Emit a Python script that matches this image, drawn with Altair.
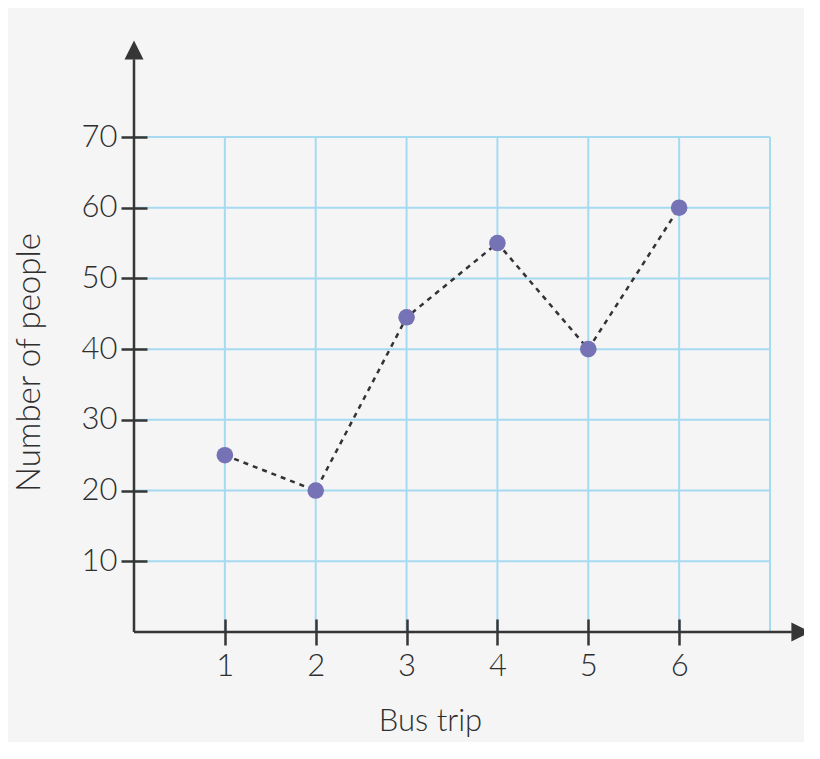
import altair as alt
import pandas as pd

# ---- data ----
trips = [1, 2, 3, 4, 5, 6]
people = [25, 20, 44.5, 55, 40, 60]
x_tick_values = [1, 2, 3, 4, 5, 6]
y_tick_values = [10, 20, 30, 40, 50, 60, 70]
grid_x = [1, 2, 3, 4, 5, 6, 7]
grid_y = [10, 20, 30, 40, 50, 60, 70]
x_max, y_max = 7, 70
x_axis_end, y_axis_end = 7.24, 81       # axis lines run past the grid
x_arrow_at, y_arrow_at = 7.34, 82.3     # arrowhead centres

FONT = "Lato"
TEXT = "#2e2e2e"
AXIS = "#363636"
GRID = "#a6daf0"
POINT = "#7672b6"

xs = alt.Scale(domain=[0, x_max], nice=False, zero=True)
ys = alt.Scale(domain=[0, y_max], nice=False, zero=True)

x_axis = alt.Axis(values=x_tick_values, grid=False, domain=False, title="Bus trip",
                  offset=-13, tickSize=26, tickWidth=2.5, tickColor=AXIS,
                  labelFont=FONT, labelFontSize=31, labelFontWeight=300, labelColor=TEXT,
                  labelPadding=6,
                  titleFont=FONT, titleFontSize=31, titleFontWeight=300, titleColor=TEXT,
                  titleX=296, titleY=111, titleBaseline="alphabetic", zindex=1)
y_axis = alt.Axis(values=y_tick_values, grid=False, domain=False, title="Number of people",
                  offset=-13, tickSize=26, tickWidth=2.5, tickColor=AXIS,
                  labelFont=FONT, labelFontSize=31, labelFontWeight=300, labelColor=TEXT,
                  labelPadding=4,
                  titleFont=FONT, titleFontSize=33, titleFontWeight=300, titleColor=TEXT,
                  titleX=-118, titleY=225, titleBaseline="middle", titleAngle=270, zindex=1)

X = alt.X("x:Q", scale=xs, axis=x_axis)
Y = alt.Y("y:Q", scale=ys, axis=y_axis)

vgrid = pd.DataFrame({"x": grid_x, "y": [0] * len(grid_x), "y2": [y_max] * len(grid_x)})
hgrid = pd.DataFrame({"y": grid_y, "x": [0] * len(grid_y), "x2": [x_max] * len(grid_y)})
xline = pd.DataFrame({"x": [0], "x2": [x_axis_end], "y": [0]})
yline = pd.DataFrame({"x": [0], "y": [0], "y2": [y_axis_end]})
up_arrow = pd.DataFrame({"x": [0], "y": [y_arrow_at]})
right_arrow = pd.DataFrame({"x": [x_arrow_at], "y": [0]})
pts = pd.DataFrame({"x": trips, "y": people})

g1 = alt.Chart(vgrid).mark_rule(color=GRID, strokeWidth=2).encode(x=X, y=Y, y2="y2:Q")
g2 = alt.Chart(hgrid).mark_rule(color=GRID, strokeWidth=2).encode(x=X, x2="x2:Q", y=Y)
ax1 = alt.Chart(xline).mark_rule(color=AXIS, strokeWidth=2.5).encode(x=X, x2="x2:Q", y=Y)
ax2 = alt.Chart(yline).mark_rule(color=AXIS, strokeWidth=2.5).encode(x=X, y=Y, y2="y2:Q")
a1 = alt.Chart(up_arrow).mark_point(shape="M0,-1L1,1L-1,1Z", filled=True, size=361,
                                    color=AXIS, opacity=1).encode(x=X, y=Y)
a2 = alt.Chart(right_arrow).mark_point(shape="M1,0L-1,-1L-1,1Z", filled=True, size=361,
                                       color=AXIS, opacity=1).encode(x=X, y=Y)
line = alt.Chart(pts).mark_line(color="#333333", strokeWidth=2.5, strokeDash=[5, 5]).encode(x=X, y=Y)
dots = alt.Chart(pts).mark_circle(color=POINT, size=275, opacity=1).encode(x=X, y=Y)

chart = alt.layer(g1, g2, ax1, ax2, a1, a2, line, dots).properties(
    width=636, height=495,
    autosize=alt.AutoSizeParams(type="none"),
    padding={"left": 126, "top": 129, "right": 34, "bottom": 110},
    background="#f5f5f5",
).configure_view(stroke=None)

chart.save("out.html", embed_options={"renderer": "svg", "actions": False})
